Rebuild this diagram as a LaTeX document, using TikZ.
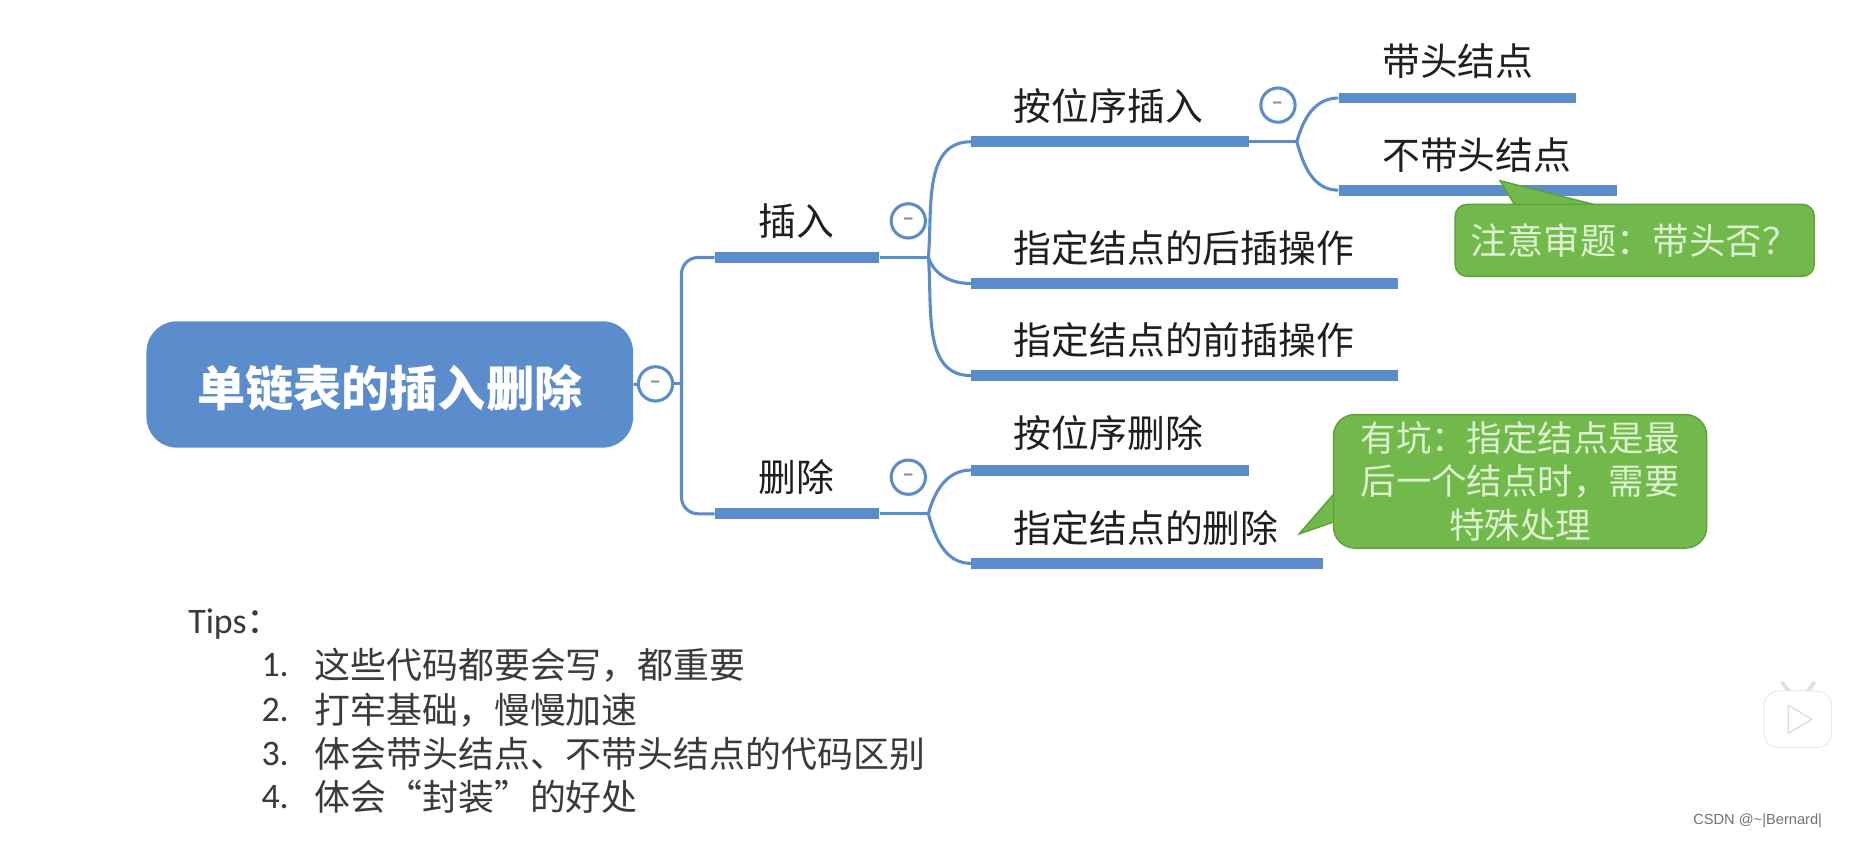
\documentclass[tikz,border=0pt]{standalone}
\usepackage{fontspec}
\usepackage{tikz}
\setmainfont{Noto Sans CJK SC}
\newfontfamily\tipsfont{Carlito}
\newfontfamily\markfont{Liberation Sans}
\definecolor{mapblue}{HTML}{5B8CCB}
\definecolor{notegreen}{HTML}{70B94A}
\definecolor{noteedge}{HTML}{5DA238}
\definecolor{notetext}{HTML}{DDF0D0}
\definecolor{tiptext}{HTML}{3A3A3A}
\definecolor{togglemark}{HTML}{8E90A8}
\newcommand{\branchtext}{\fontsize{16}{18}\selectfont}
\newcommand{\tiptextsize}{\fontsize{15.2}{17}\selectfont}

\begin{document}
\begin{tikzpicture}[x=0.5pt,y=-0.5pt,
    root node/.style={fill=mapblue,rounded corners=13pt,minimum width=206pt,minimum height=53.5pt,inner sep=0pt,text height=18.6pt,text depth=0pt,text=white,font=\fontsize{20.4}{24}\selectfont\bfseries},
    toggle node/.style={circle,draw=mapblue,line width=1.3pt,fill=white,minimum size=14.5pt,inner sep=0pt,text=togglemark,font=\footnotesize\bfseries},
    bar node/.style={fill=mapblue,minimum width=#1,minimum height=4.6pt,inner sep=0pt,anchor=west},
    text node/.style={inner sep=0pt,anchor=west,text=black!88,font=\branchtext},
    note node/.style={draw=noteedge,fill=notegreen,line width=0.6pt,inner sep=0pt,text=notetext},
    tip node/.style={inner sep=0pt,anchor=west,text=tiptext,font=\tiptextsize},
    link/.style={draw=mapblue,line width=1.3pt}]
    \useasboundingbox[fill=white] (0,0) rectangle (1568,712);

    % root and its two branches
    \node[root node] (root) at (330,325.5) {单链表的插入删除};
    \node[toggle node] (rootbtn) at (555,325) {–};
    \coordinate (roothub) at (577,325);

    \node[bar node=69.5pt] (ins) at (605,218) {};
    \node[bar node=69.5pt] (del) at (605,435) {};
    \node[text node] (instext) at (642,187) {插入};
    \node[text node] (deltext) at (642,404) {删除};
    \node[toggle node] (insbtn) at (769,187) {–};
    \node[toggle node] (delbtn) at (769,404) {–};
    \coordinate (inshub) at (786,218);
    \coordinate (delhub) at (786,435);

    % insert side
    \node[bar node=117.5pt] (pos) at (822,120) {};
    \node[bar node=180.5pt] (after) at (822,240) {};
    \node[bar node=180.5pt] (before) at (822,318) {};
    \node[text node] (postext) at (858,90) {按位序插入};
    \node[text node] (aftertext) at (858,210) {指定结点的后插操作};
    \node[text node] (beforetext) at (858,288) {指定结点的前插操作};
    \node[toggle node] (posbtn) at (1082,89) {–};
    \coordinate (poshub) at (1098,120);

    \node[bar node=100.5pt] (head) at (1133,83) {};
    \node[bar node=118pt] (nohead) at (1133,161) {};
    \node[text node] (headtext) at (1170,52) {带头结点};
    \node[text node] (noheadtext) at (1170,131) {不带头结点};

    % delete side
    \node[bar node=117.5pt] (delpos) at (822,398) {};
    \node[bar node=149pt] (delnode) at (822,477) {};
    \node[text node] (delpostext) at (858,367) {按位序删除};
    \node[text node] (delnodetext) at (858,447) {指定结点的删除};

    \path[link]
    (root.east) edge (rootbtn)
    (rootbtn) edge (roothub)
    (ins.east) edge (inshub)
    (del.east) edge (delhub)
    (pos.east) edge (poshub)

    (inshub) edge[out=85,in=180] (pos.west)
    (inshub) edge[out=-70,in=180] (after.west)
    (inshub) edge[out=-85,in=180] (before.west)

    (poshub) edge[out=75,in=180] (head.west)
    (poshub) edge[out=-75,in=180] (nohead.west)

    (delhub) edge[out=75,in=180] (delpos.west)
    (delhub) edge[out=-75,in=180] (delnode.west);

    \draw[link,rounded corners=7pt] (ins.west) -| (roothub) |- (del.west);

    % remarks
    \coordinate (headtip) at (1270,153);
    \filldraw[draw=noteedge,fill=notegreen,line width=0.6pt] (headtip) -- (1284,176) -- (1361,176) -- cycle;
    \node[note node,rounded corners=5pt,minimum width=152pt,minimum height=30.5pt,font=\fontsize{15.4}{17}\selectfont] (headnote) at (1384,203.5) {注意审题：带头否？};

    \coordinate (delnodetip) at (1100,452);
    \filldraw[draw=noteedge,fill=notegreen,line width=0.6pt] (delnodetip) -- (1132,415) -- (1132,441) -- cycle;
    \node[note node,rounded corners=9pt,minimum width=158pt,minimum height=56.5pt,align=center,font=\fontsize{15}{18.4}\selectfont] (delnote) at (1287,407.5) {有坑：指定结点是最\\后一个结点时，需要\\特殊处理};

    % tips
    \node[tip node] (tips) at (159,528) {{\tipsfont Tips}：};
    \node[tip node] (numa) at (221,563) {\tipsfont 1.};
    \node[tip node] (numb) at (221,601) {\tipsfont 2.};
    \node[tip node] (numc) at (221,638) {\tipsfont 3.};
    \node[tip node] (numd) at (221,675) {\tipsfont 4.};
    \node[tip node] (tipa) at (266,563) {这些代码都要会写，都重要};
    \node[tip node] (tipb) at (266,601) {打牢基础，慢慢加速};
    \node[tip node] (tipc) at (266,638) {体会带头结点、不带头结点的代码区别};
    \node[tip node] (tipd) at (266,675) {体会“封装”的好处};

    % player mark and watermark
    \draw[black!12,line width=1.6pt,line cap=round] (1509,578) -- (1516,587) (1536,578) -- (1529,587);
    \node[draw=black!9,fill=white,rounded corners=6pt,minimum width=28.5pt,minimum height=24pt,inner sep=0pt] (screen) at (1522,609) {};
    \filldraw[draw=black!14,fill=white,line width=0.5pt,line join=round] (1514,597) -- (1534,609) -- (1514,621) -- cycle;
    \node[inner sep=0pt,anchor=east,text=black!55,font=\markfont\fontsize{6.2}{9}\selectfont] (mark) at (1543,695) {CSDN @\textasciitilde|Bernard|};
  \end{tikzpicture}
\end{document}
